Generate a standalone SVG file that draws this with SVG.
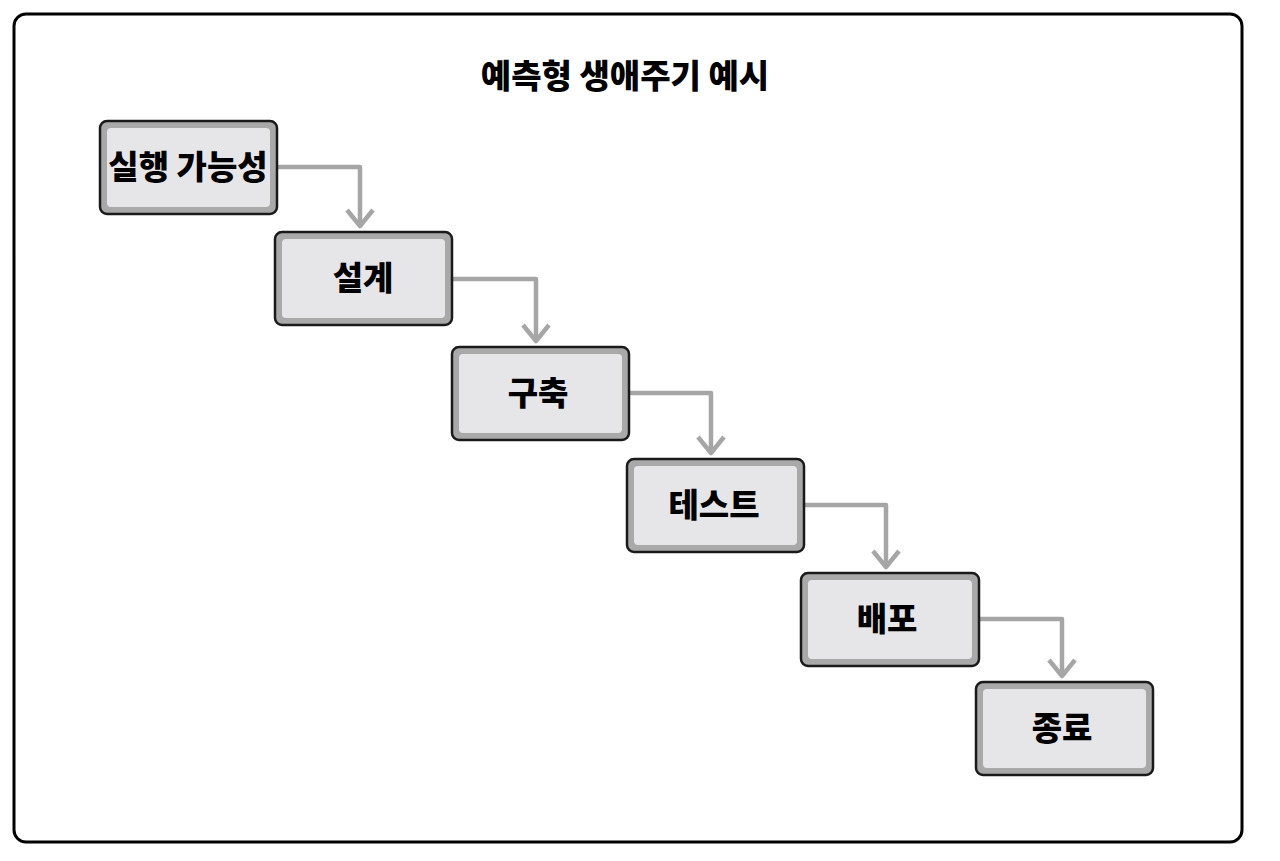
<svg xmlns="http://www.w3.org/2000/svg" width="1280" height="861" viewBox="0 0 1280 861">
<style>
.o{fill:#a9a9a9;stroke:#1a1a1a;stroke-width:2.5}
.i{fill:#e6e6e8}
.t{font-family:"Noto Sans CJK KR",sans-serif;font-weight:900;font-size:33px;fill:#000;text-anchor:middle}
.c{fill:none;stroke:#a6a6a6;stroke-width:4.5;stroke-linejoin:round}
</style>
<defs><marker id="a" viewBox="0 0 20 20" refX="10" refY="17" markerWidth="6" markerHeight="6" markerUnits="userSpaceOnUse" orient="auto" overflow="visible"><path d="M-12,0 L0,18 L12,0" fill="none" stroke="#a6a6a6" stroke-width="4.5" stroke-linecap="round" stroke-linejoin="round" transform="translate(10,0) rotate(-90 0 17) translate(0,0)"/></marker></defs>
<rect x="14" y="14" width="1228" height="828" rx="12" fill="#fff" stroke="#000" stroke-width="3"/>
<text x="625" y="88" class="t" font-size="32">예측형 생애주기 예시</text>
<g id="connectors">
<path class="c" d="M277,167 H360 V226"/>
<path d="M347,210 L360,226 L373,210" class="c"/>
<path class="c" d="M452,279 H536 V341"/>
<path d="M523,325 L536,341 L549,325" class="c"/>
<path class="c" d="M629,393 H711 V453"/>
<path d="M698,437 L711,453 L724,437" class="c"/>
<path class="c" d="M804,505 H886 V567"/>
<path d="M873,551 L886,567 L899,551" class="c"/>
<path class="c" d="M979,619 H1062 V676"/>
<path d="M1049,660 L1062,676 L1075,660" class="c"/>
</g>
<g id="n1"><rect class="o" x="100" y="121" width="177" height="93" rx="7"/><rect class="i" x="107" y="128" width="163" height="79" rx="4"/><text class="t" x="188" y="179">실행 가능성</text></g>
<g id="n2"><rect class="o" x="275" y="232" width="177" height="93" rx="7"/><rect class="i" x="282" y="239" width="163" height="79" rx="4"/><text class="t" x="363" y="290">설계</text></g>
<g id="n3"><rect class="o" x="452" y="347" width="177" height="93" rx="7"/><rect class="i" x="459" y="354" width="163" height="79" rx="4"/><text class="t" x="538" y="405">구축</text></g>
<g id="n4"><rect class="o" x="627" y="459" width="177" height="93" rx="7"/><rect class="i" x="634" y="466" width="163" height="79" rx="4"/><text class="t" x="714" y="517">테스트</text></g>
<g id="n5"><rect class="o" x="801" y="573" width="178" height="93" rx="7"/><rect class="i" x="808" y="580" width="164" height="79" rx="4"/><text class="t" x="887" y="631">배포</text></g>
<g id="n6"><rect class="o" x="976" y="682" width="177" height="93" rx="7"/><rect class="i" x="983" y="689" width="163" height="79" rx="4"/><text class="t" x="1062" y="740">종료</text></g>
</svg>
